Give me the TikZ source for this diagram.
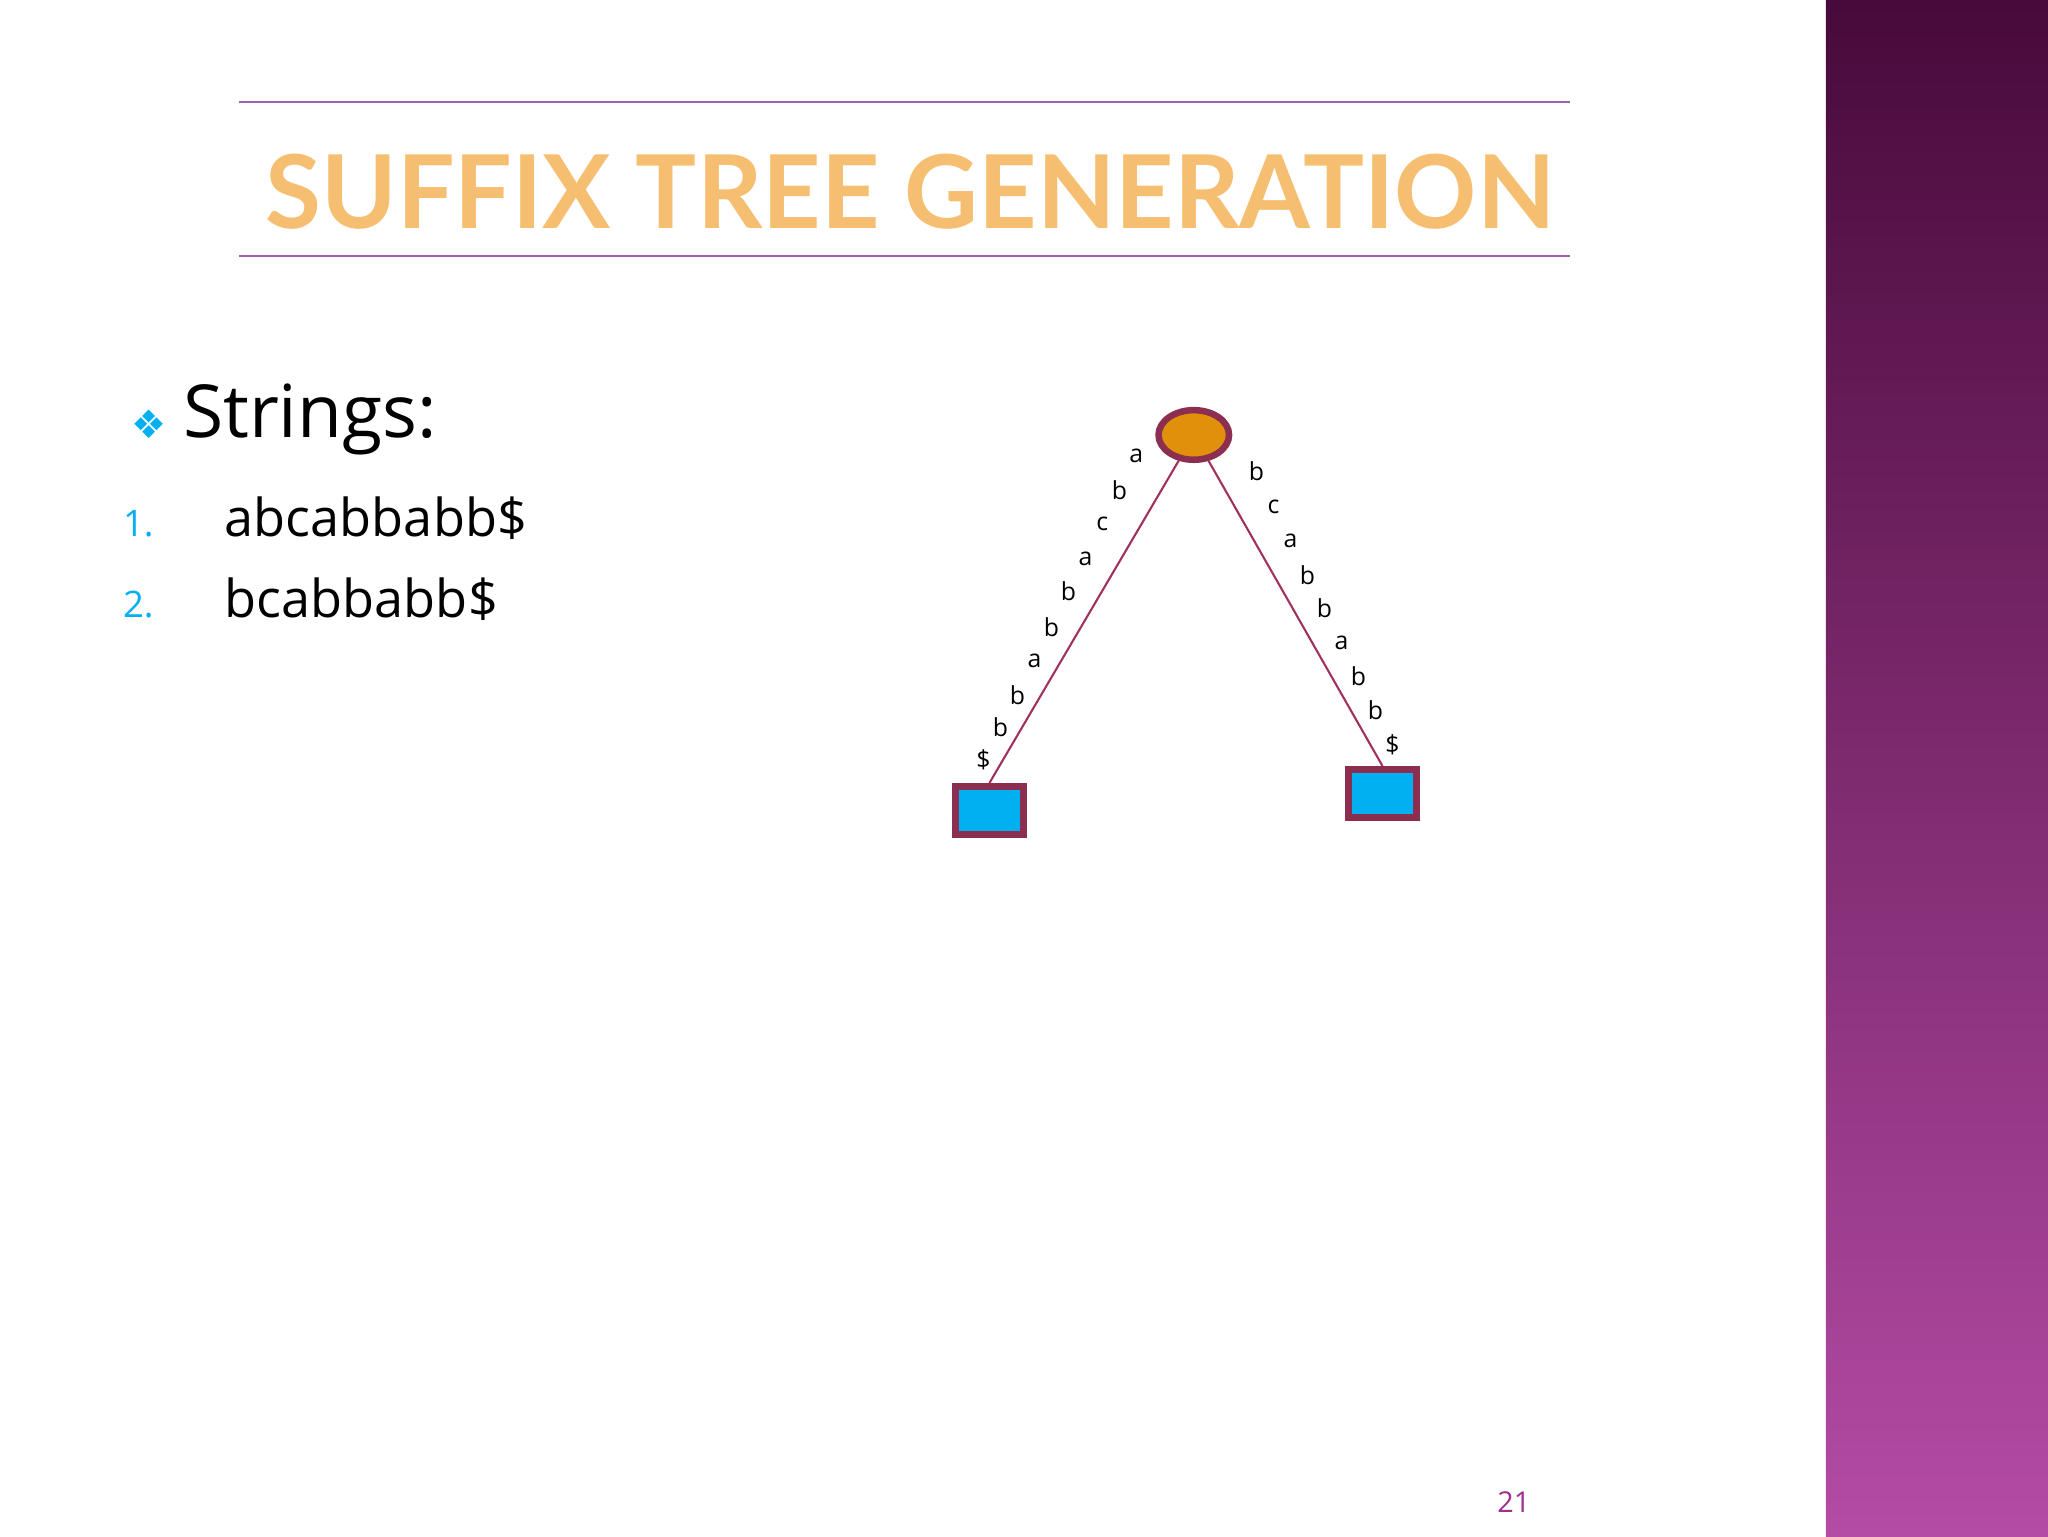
\documentclass[tikz,border=0pt]{standalone}
\usepackage{fontspec}
\usetikzlibrary{shapes.geometric}
\setmainfont{Open Sans}
\newfontfamily\titlefont{Lato}
\newfontfamily\symfont{DejaVu Sans}
\definecolor{edgec}{HTML}{A03060}
\definecolor{bord}{HTML}{8B2E50}
\definecolor{cyanb}{HTML}{00B0F0}
\definecolor{orn}{HTML}{E0900A}
\definecolor{lnc}{HTML}{A060B0}
\definecolor{titc}{HTML}{F6BE70}
\definecolor{pn}{HTML}{A03090}
\definecolor{sbtop}{HTML}{480A3A}
\definecolor{sbbot}{HTML}{B44BA5}
\tikzset{lab/.style={font=\fontsize{19}{19}\selectfont,inner sep=0pt},
 leaf/.style={draw=bord,line width=5pt,fill=cyanb,minimum width=52pt,minimum height=37pt,inner sep=0pt},
 edge/.style={draw=edgec,line width=1.6pt}}
\begin{document}
\begin{tikzpicture}[x=1pt,y=-1pt]
\useasboundingbox (0,0) rectangle (1568,1176);
\fill[white] (0,0) rectangle (1568,1176);
\shade[top color=sbtop,bottom color=sbbot] (1398,0) rectangle (1568,1176);
\draw[lnc,line width=2pt] (183,78) -- (1202,78);
\draw[lnc,line width=2pt] (183,196) -- (1202,196);
\node[font=\titlefont\bfseries\fontsize{78}{78}\selectfont,text=titc] (title) at (697,147) {SUFFIX TREE GENERATION};
\node[text=cyanb,font=\symfont\fontsize{30}{30}\selectfont,inner sep=0pt] (dia) at (114,325) {❖};
\node[anchor=west,font=\fontsize{56}{56}\selectfont,inner sep=0pt] (str) at (140,321) {Strings:};
\node[anchor=west,text=cyanb,font=\fontsize{28}{28}\selectfont,inner sep=0pt] (n1) at (94,401) {1.};
\node[anchor=west,font=\fontsize{40}{40}\selectfont,inner sep=0pt] (s1) at (172,397) {abcabbabb\$};
\node[anchor=west,text=cyanb,font=\fontsize{28}{28}\selectfont,inner sep=0pt] (n2) at (94,463) {2.};
\node[anchor=west,font=\fontsize{40}{40}\selectfont,inner sep=0pt] (s2) at (172,459) {bcabbabb\$};
\node[ellipse,draw=bord,line width=5pt,fill=orn,minimum width=54pt,minimum height=38pt,inner sep=0pt] (root) at (914,333) {};
\node[leaf] (l1) at (757.5,620.5) {};
\node[leaf] (l2) at (1058.5,607.5) {};
\draw[edge] (root) -- (l1.north);
\draw[edge] (root) -- (l2.north);
\foreach \t/\x/\y [count=\i] in {a/870/349,b/857/375,c/844/401,a/831/428,b/818/453,b/805/480,a/792/506,b/779/532,b/766/557,\$/753/582}
  \node[lab] (la\i) at (\x,\y) {\t};
\foreach \t/\x/\y [count=\i] in {b/962/361,c/975/388,a/988/414,b/1001/440,b/1014/466,a/1027/492,b/1040/518,b/1053/544,\$/1066/570}
  \node[lab] (ra\i) at (\x,\y) {\t};
\node[text=pn,font=\fontsize{22}{22}\selectfont] (pg) at (1159,1150) {21};
\end{tikzpicture}
\end{document}
